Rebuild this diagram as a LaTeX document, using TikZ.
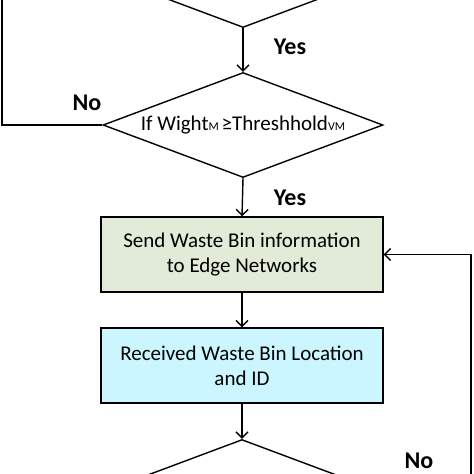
\documentclass[tikz,border=0pt]{standalone}
\usepackage{fontspec}
\setmainfont{Carlito}
\usepackage{xcolor}
\usetikzlibrary{arrows.meta,calc,positioning,shapes.geometric}
\definecolor{sendgreen}{HTML}{E2EBD8}
\definecolor{recvcyan}{HTML}{CCF6FF}
\newcommand{\sbs}[1]{\raisebox{-0.5pt}{\fontsize{12}{12}\selectfont #1}}

\begin{document}
\begin{tikzpicture}[x=1pt,y=-1pt,line width=1.4pt,
	txt/.style={font=\fontsize{21}{25}\selectfont,align=center},
	lbl/.style={font=\fontsize{24}{26}\selectfont\bfseries},
	proc/.style={draw,txt,minimum width=282pt,minimum height=75pt,inner sep=0pt},
	dec/.style={draw,diamond,aspect=2.67,txt,minimum width=280pt,minimum height=105pt,inner sep=0pt,fill=white},
	arr/.style={-{Straight Barb[length=6pt,width=12pt]}}]
	\useasboundingbox (0,0) rectangle (474,474);
	\clip (0,0) rectangle (474,474);
	
	% decisions and steps
	\node[dec] (full) at (243,-25) {};
	\node[dec] (wcheck) at (243,125) {If Wight\sbs{M} \hspace{-2pt}≥Threshhold\sbs{VM}};
	\node[proc,fill=sendgreen] (send) at (242,254.5) {Send Waste Bin information\\to Edge Networks};
	\node[proc,fill=recvcyan] (recv) at (242,365.5) {Received Waste Bin Location\\and ID};
	\node[dec] (done) at (242,492) {};
	
	% loops
	\coordinate (loopL) at (2,-60);
	\coordinate (loopR) at (471,300);
	
	\draw[arr] (full.south) -- (wcheck.north);
	\draw[arr] (wcheck.south) -- (send.north);
	\draw[arr] (send.south) -- (recv.north);
	\draw[arr] (recv.south) -- (done.north);
	\draw (wcheck.west) -| (loopL);
	\draw[arr] (done.east) -| (loopR) |- (send.east);
	
	\node[lbl] (yes1) at (290,47) {Yes};
	\node[lbl] (yes2) at (290,198) {Yes};
	\node[lbl] (no1) at (87,103) {No};
	\node[lbl] (no2) at (419,461) {No};
\end{tikzpicture}
\end{document}
